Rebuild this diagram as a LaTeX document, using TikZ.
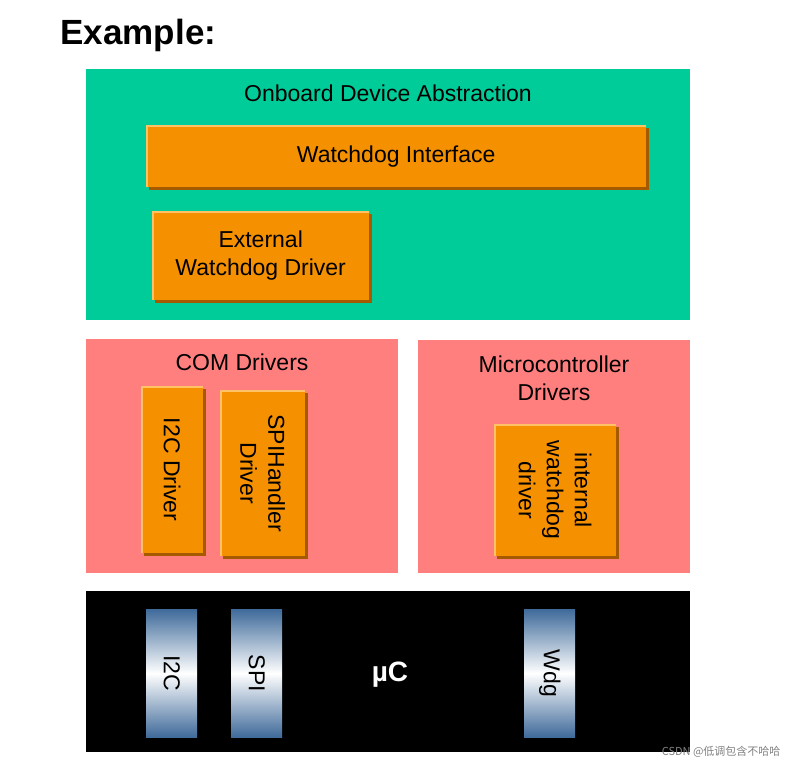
\documentclass[tikz,border=0pt]{standalone}
\usepackage{fontspec}
\setmainfont{Liberation Sans}
\newfontfamily\cjk{Noto Sans CJK SC}
\definecolor{layergreen}{HTML}{00CC99}
\definecolor{layerpink}{HTML}{FF7F7F}
\definecolor{modorange}{HTML}{F59100}
\definecolor{modlight}{HTML}{FFC266}
\definecolor{modshadow}{HTML}{A65A00}
\definecolor{barblue}{HTML}{3F6A9A}
\tikzset{
  layer/.style={draw=none, anchor=north west, inner sep=0pt},
  module/.style={fill=modorange, anchor=north west, inner sep=0pt, align=center,
    font=\fontsize{23}{28}\selectfont,
    preaction={fill=modshadow, transform canvas={shift={(3pt,-3pt)}}},
    path picture={\draw[modlight, line width=3pt] (path picture bounding box.south west) |- (path picture bounding box.north east);}},
  bar/.style={anchor=north west, inner sep=0pt, top color=barblue, bottom color=barblue, middle color=white},
  label/.style={font=\fontsize{23}{28}\selectfont, align=center}
}
\begin{document}
\begin{tikzpicture}[x=1pt,y=-1pt]
  \useasboundingbox (0,0) rectangle (790,766);

  \node[font=\bfseries\fontsize{35}{40}\selectfont, anchor=west] (title) at (57,35) {Example:};

  % onboard device abstraction
  \node[layer, fill=layergreen, minimum width=604pt, minimum height=251pt] (oda) at (86,69) {};
  \node[label] (odalbl) at (388,93) {Onboard Device Abstraction};
  \node[module, minimum width=500pt, minimum height=62pt] (wdgif) at (146,125) {Watchdog Interface};
  \node[module, minimum width=217pt, minimum height=89pt] (extwdg) at (152,211) {External\\Watchdog Driver};

  % COM drivers
  \node[layer, fill=layerpink, minimum width=312pt, minimum height=234pt] (com) at (86,339) {};
  \node[label] (comlbl) at (242,362) {COM Drivers};
  \node[module, minimum width=62pt, minimum height=167pt] (i2cdrv) at (141,386) {};
  \node[label, rotate=-90] at (i2cdrv.center) {I2C Driver};
  \node[module, minimum width=85pt, minimum height=166pt] (spidrv) at (220,390) {};
  \node[label, rotate=-90] at (spidrv.center) {SPIHandler\\Driver};

  % microcontroller drivers
  \node[layer, fill=layerpink, minimum width=272pt, minimum height=233pt] (mcal) at (418,340) {};
  \node[label] (mcallbl) at (554,378) {Microcontroller\\Drivers};
  \node[module, minimum width=122pt, minimum height=132pt] (intwdg) at (494,424) {};
  \node[label, rotate=-90] at (intwdg.center) {internal\\watchdog\\driver};

  % microcontroller
  \node[layer, fill=black, minimum width=604pt, minimum height=161pt] (uc) at (86,591) {};
  \node[text=white, font=\bfseries\fontsize{28}{32}\selectfont] (uclbl) at (390,675) {µC};
  \foreach \x/\name/\txt in {146/i2c/I2C, 231/spi/SPI, 524/wdg/Wdg} {
    \node[bar, minimum width=51pt, minimum height=128pt] (\name) at (\x,609) {};
    \node[label, rotate=-90] at (\name.center) {\txt};
  }

  \node[text=gray, font=\cjk\fontsize{11}{13}\selectfont, anchor=east] (mark) at (784,752) {CSDN @低调包含不哈哈};
\end{tikzpicture}
\end{document}
